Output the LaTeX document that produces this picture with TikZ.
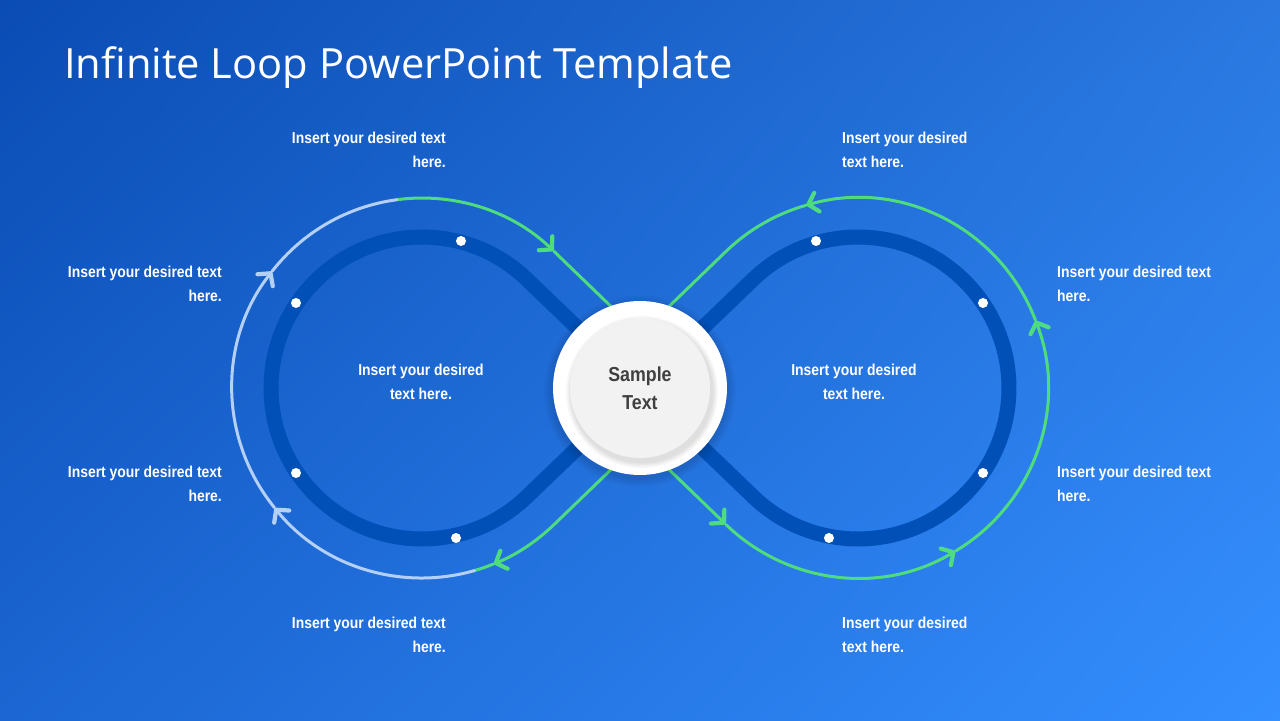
\documentclass[tikz,border=0pt]{standalone}
\usepackage{fontspec}
\setmainfont{Open Sans}
\newfontfamily\labelfont[FakeStretch=0.88]{Liberation Sans}
\usetikzlibrary{calc,arrows.meta,shadings}
\definecolor{bgA}{HTML}{0A4CB4}
\definecolor{bgB}{HTML}{2A78E0}
\definecolor{bgC}{HTML}{1B66D2}
\definecolor{bgD}{HTML}{348FFF}
\definecolor{bandblue}{HTML}{0050B8}
\definecolor{loopgreen}{HTML}{4FDC7E}
\definecolor{looplight}{HTML}{B4D0F7}
\definecolor{centergray}{HTML}{F2F2F2}
\definecolor{textgray}{HTML}{404040}
\tikzset{
  band/.style={line width=0.3cm, bandblue, line join=round},
  greenloop/.style={line width=0.06cm, loopgreen, line cap=round},
  lightloop/.style={line width=0.06cm, looplight, line cap=round},
  tip/.style={-{Straight Barb[length=5pt,width=11pt,line width=2.4pt,line cap=round]}},
  dot/.style={circle, fill=white, inner sep=0pt, minimum size=0.2cm},
  lbl/.style={text=white, font=\labelfont\bfseries\fontsize{9}{14}\selectfont},
}
\begin{document}
\begin{tikzpicture}[x=0.02cm,y=0.02cm]
    \shade[upper left=bgA, upper right=bgB, lower left=bgC, lower right=bgD] (0,0) rectangle (1280,720);
    \useasboundingbox (0,0) rectangle (1280,720);

    \coordinate (P) at (640,332);
    \coordinate (CL) at (422,332);
    \coordinate (CR) at (858,332);

    \node[anchor=west, text=white, font=\fontsize{23.7}{28}\selectfont] (title) at (58,652) {Infinite Loop PowerPoint Template};

    % faixa do infinito
    \draw[band] (P) -- ($(CL)+(46:3.02cm)$) arc[start angle=46, end angle=314, radius=3.02cm] -- (P)
        -- ($(CR)+(226:3.02cm)$) arc[start angle=226, end angle=494, radius=3.02cm] -- cycle;

    % laco esquerdo
    \coordinate (LT) at ($(CL)+(46:3.8cm)$);
    \coordinate (LB) at ($(CL)+(-46:3.8cm)$);
    \draw[greenloop, tip] ($(CL)+(97.6:3.8cm)$) arc[start angle=97.6, end angle=46, radius=3.8cm];
    \draw[greenloop] (LT) -- ($(LT)+(-44:3.1cm)$);
    \draw[greenloop, tip] ($(LB)+(44:3.1cm)$) -- (LB) arc[start angle=-46, end angle=-68, radius=3.8cm];
    \draw[greenloop] ($(CL)+(-68:3.8cm)$) arc[start angle=-68, end angle=-74, radius=3.8cm];
    \draw[lightloop, tip] ($(CL)+(-74:3.8cm)$) arc[start angle=-74, end angle=-141, radius=3.8cm];
    \draw[lightloop, tip] ($(CL)+(-141:3.8cm)$) arc[start angle=-141, end angle=-218, radius=3.8cm];
    \draw[lightloop] ($(CL)+(-218:3.8cm)$) arc[start angle=-218, end angle=-262.4, radius=3.8cm];

    % laco direito
    \coordinate (RT) at ($(CR)+(134:3.8cm)$);
    \coordinate (RB) at ($(CR)+(226:3.8cm)$);
    \draw[greenloop, tip] ($(RB)+(136:3.1cm)$) -- (RB);
    \draw[greenloop, tip] (RB) arc[start angle=226, end angle=301, radius=3.8cm];
    \draw[greenloop, tip] ($(CR)+(301:3.8cm)$) arc[start angle=301, end angle=381, radius=3.8cm];
    \draw[greenloop, tip] ($(CR)+(381:3.8cm)$) arc[start angle=381, end angle=466, radius=3.8cm];
    \draw[greenloop] ($(CR)+(466:3.8cm)$) arc[start angle=466, end angle=494, radius=3.8cm] -- ($(RT)+(224:3.1cm)$);

    % pontos
    \foreach \px/\py [count=\i] in {461/479, 296/417, 296/247, 456/182, 816/479, 983/417, 983/247, 829/182}
        \node[dot] (d\i) at (\px,\py) {};

    % circulo central
    \foreach \k in {1,...,5}
        \fill[black, opacity=0.025] ($(P)+(0,-3)$) circle ({1.74cm+\k*0.035cm});
    \fill[white] (P) circle (1.74cm);
    \foreach \k in {1,...,4}
        \fill[black, opacity=0.03] ($(P)+(2,-4)$) circle ({1.40cm+\k*0.03cm});
    \fill[centergray] (P) circle (1.40cm);
    \node[align=center, text=textgray, font=\labelfont\bfseries\fontsize{11.5}{16}\selectfont] (sample) at (P) {Sample\\Text};

    % textos
    \node[lbl, anchor=east, align=right] (t1) at (452,570) {Insert your desired text\\here.};
    \node[lbl, anchor=east, align=right] (t2) at (228,436) {Insert your desired text\\here.};
    \node[lbl, anchor=east, align=right] (t3) at (228,236) {Insert your desired text\\here.};
    \node[lbl, anchor=east, align=right] (t4) at (452,85) {Insert your desired text\\here.};
    \node[lbl, align=center] (t5) at (421,338) {Insert your desired\\text here.};
    \node[lbl, anchor=west, align=left] (t6) at (836,570) {Insert your desired\\text here.};
    \node[lbl, anchor=west, align=left] (t7) at (1051,436) {Insert your desired text\\here.};
    \node[lbl, anchor=west, align=left] (t8) at (1051,236) {Insert your desired text\\here.};
    \node[lbl, anchor=west, align=left] (t9) at (836,85) {Insert your desired\\text here.};
    \node[lbl, align=center] (t10) at (854,338) {Insert your desired\\text here.};
\end{tikzpicture}
\end{document}
